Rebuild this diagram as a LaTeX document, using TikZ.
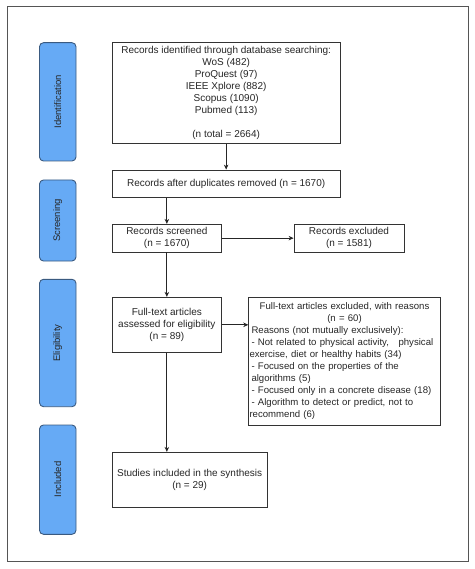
\documentclass[tikz,border=0pt]{standalone}
\usepackage{fontspec}
\setmainfont{Liberation Sans}
\usetikzlibrary{arrows.meta}
\definecolor{phasefill}{HTML}{66AAF5}
\definecolor{phasedraw}{HTML}{3A5A80}
\definecolor{boxdraw}{HTML}{333333}
\definecolor{framedraw}{HTML}{555555}
\newcommand{\leftln}[1]{\makebox[\linewidth][l]{#1}}
\newcommand{\centln}[1]{\makebox[\linewidth][c]{#1}}
\tikzset{
  phase/.style={draw=phasedraw, fill=phasefill, rounded corners=4pt, line width=0.9pt, minimum width=36.5pt, inner sep=0pt},
  phaselabel/.style={rotate=90, font=\fontsize{9.5}{11}\selectfont, text=black!85},
  flowbox/.style={draw=boxdraw, line width=0.8pt, inner sep=0pt, align=center, font=\fontsize{10}{11.9}\selectfont, text=black!85},
  flowarrow/.style={draw=black!85, line width=0.8pt, -{Stealth[length=5pt,width=4.5pt]}},
}
\begin{document}
\begin{tikzpicture}[x=1pt,y=-1pt]
\useasboundingbox (0,0) rectangle (474,569);
\draw[framedraw, line width=0.9pt] (7.5,6) rectangle (468,561.7);

\node[phase, minimum height=118.3pt] (pid) at (57.75,101.85) {};
\node[phaselabel] at (pid) {Identification};
\node[phase, minimum height=81pt] (pscr) at (57.75,220.5) {};
\node[phaselabel] at (pscr) {Screening};
\node[phase, minimum height=127.4pt] (pel) at (57.75,343) {};
\node[phaselabel] at (pel) {Eligibility};
\node[phase, minimum height=109.3pt] (pinc) at (57.75,479.65) {};
\node[phaselabel] at (pinc) {Included};

\node[flowbox, minimum width=228.3pt, minimum height=100.6pt] (rec) at (226.15,93)
  {Records identified through database searching:\\ WoS (482)\\ ProQuest (97)\\ IEEE Xplore (882)\\ Scopus (1090)\\ Pubmed (113)\\[11.9pt] (n total = 2664)};
\node[flowbox, minimum width=228.3pt, minimum height=27.3pt] (dup) at (226.15,183.65)
  {Records after duplicates removed (n = 1670)};
\node[flowbox, minimum width=109.7pt, minimum height=27.7pt] (scr) at (166.85,238.15)
  {Records screened\\ (n = 1670)};
\node[flowbox, minimum width=110pt, minimum height=27.7pt] (exc) at (349,238.15)
  {Records excluded\\ (n = 1581)};
\node[flowbox, minimum width=109.7pt, minimum height=55pt] (ft) at (166.85,324.8)
  {Full-text articles\\ assessed for eligibility\\ (n = 89)};
\node[flowbox, minimum width=191.6pt, minimum height=127.7pt, text width=190pt, align=left, font=\fontsize{9.6}{12}\selectfont] (exc2) at (344.5,361.15)
  {\centln{Full-text articles excluded, with reasons}\\
   \centln{(n = 60)}\\
   \leftln{\hspace*{2pt}Reasons (not mutually exclusively):}\\
   \leftln{\hspace*{2pt}- Not related to physical activity, \ \ physical}\\
   \leftln{exercise, diet or healthy habits (34)}\\
   \leftln{\hspace*{2pt}- Focused on the properties of the}\\
   \leftln{\hspace*{2pt}algorithms (5)}\\
   \leftln{\hspace*{2pt}- Focused only in a concrete disease (18)}\\
   \leftln{\hspace*{2pt}- Algorithm to detect or predict, not to}\\
   \leftln{recommend (6)}};
\node[flowbox, minimum width=155.3pt, minimum height=55pt] (inc) at (189.65,479.8)
  {Studies included in the synthesis\\ (n = 29)};

\draw[flowarrow] (rec.south) -- (rec.south |- dup.north);
\draw[flowarrow] (scr.north |- dup.south) -- (scr.north);
\draw[flowarrow] (scr.east) -- (exc.west);
\draw[flowarrow] (scr.south) -- (ft.north);
\draw[flowarrow] (ft.east) -- (ft.east -| exc2.west);
\draw[flowarrow] (ft.south) -- (ft.south |- inc.north);
\end{tikzpicture}
\end{document}
